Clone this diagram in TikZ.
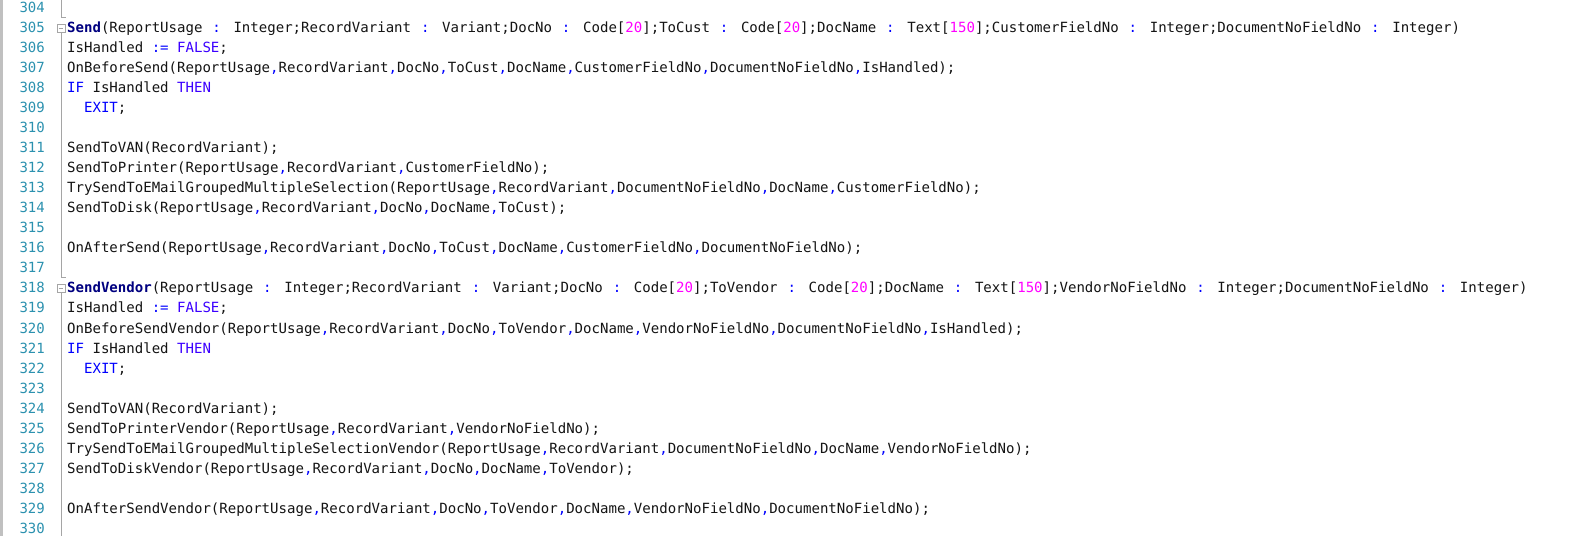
\documentclass[tikz,border=0pt]{standalone}
\usepackage{fontspec}
\setmonofont{DejaVu Sans Mono}
\newfontfamily\codefont{DejaVu Sans Mono}[Scale=1]
\definecolor{kw}{RGB}{0,0,255}
\definecolor{kv}{RGB}{60,0,255}
\definecolor{num}{RGB}{255,0,255}
\definecolor{fn}{RGB}{0,0,128}
\definecolor{lnum}{RGB}{43,145,175}
\definecolor{gut}{RGB}{165,165,165}
\definecolor{txt}{RGB}{20,20,20}
\newcommand\cm{\textcolor{kw}{,}}
\newcommand\cl{ \hspace{1.4bp}\textcolor{kw}{:}\hspace{1.4bp} }
\newcommand\nm[1]{\textcolor{num}{#1}}
\newcommand\kwd[1]{\textcolor{kw}{#1}}
\newcommand\kwv[1]{\textcolor{kv}{#1}}
\begin{document}
\begin{tikzpicture}[x=1bp,y=-1bp,
  code/.style={anchor=base west,inner sep=0,font=\codefont\fontsize{14.05bp}{16bp}\selectfont,text=txt},
  lno/.style={anchor=base east,inner sep=0,font=\codefont\fontsize{14bp}{16bp}\selectfont,text=lnum},
  gline/.style={draw=gut,line width=0.8bp},
  fold/.style={draw=gut,line width=0.8bp,fill=white}]
\useasboundingbox[fill=white] (0,0) rectangle (1577,536);
\fill[gut!70] (0,0) rectangle (2.5,536);
% line numbers
\foreach \i in {304,...,330}{
  \node[lno] (n\i) at (45,{13+20*(\i-304)}) {\i};
}
% gutter
\draw[gline] (61,0) -- (61,17) -- (66,17);
\draw[gline] (61,32) -- (61,277) -- (66,277);
\draw[gline] (61,292) -- (61,536);
\node[fold,minimum size=8bp,inner sep=0] (f305) at (61,28) {};
\draw[gline] ([xshift=2bp]f305.west) -- ([xshift=-2bp]f305.east);
\node[fold,minimum size=8bp,inner sep=0] (f318) at (61,288) {};
\draw[gline] ([xshift=2bp]f318.west) -- ([xshift=-2bp]f318.east);
% code
\node[code] (c305) at (67,33) {\textcolor{fn}{\bfseries Send}(ReportUsage\cl Integer;RecordVariant\cl Variant;DocNo\cl Code[\nm{20}];ToCust\cl Code[\nm{20}];DocName\cl Text[\nm{150}];CustomerFieldNo\cl Integer;DocumentNoFieldNo\cl Integer)};
\node[code] (c306) at (67,53) {IsHandled \kwd{:=} \kwv{FALSE};};
\node[code] (c307) at (67,73) {OnBeforeSend(ReportUsage\cm RecordVariant\cm DocNo\cm ToCust\cm DocName\cm CustomerFieldNo\cm DocumentNoFieldNo\cm IsHandled);};
\node[code] (c308) at (67,93) {\kwd{IF} IsHandled \kwv{THEN}};
\node[code] (c309) at (67,113) {\ \ \kwd{EXIT};};
\node[code] (c311) at (67,153) {SendToVAN(RecordVariant);};
\node[code] (c312) at (67,173) {SendToPrinter(ReportUsage\cm RecordVariant\cm CustomerFieldNo);};
\node[code] (c313) at (67,193) {TrySendToEMailGroupedMultipleSelection(ReportUsage\cm RecordVariant\cm DocumentNoFieldNo\cm DocName\cm CustomerFieldNo);};
\node[code] (c314) at (67,213) {SendToDisk(ReportUsage\cm RecordVariant\cm DocNo\cm DocName\cm ToCust);};
\node[code] (c316) at (67,253) {OnAfterSend(ReportUsage\cm RecordVariant\cm DocNo\cm ToCust\cm DocName\cm CustomerFieldNo\cm DocumentNoFieldNo);};
\node[code] (c318) at (67,293) {\textcolor{fn}{\bfseries SendVendor}(ReportUsage\cl Integer;RecordVariant\cl Variant;DocNo\cl Code[\nm{20}];ToVendor\cl Code[\nm{20}];DocName\cl Text[\nm{150}];VendorNoFieldNo\cl Integer;DocumentNoFieldNo\cl Integer)};
\node[code] (c319) at (67,313) {IsHandled \kwd{:=} \kwv{FALSE};};
\node[code] (c320) at (67,333) {OnBeforeSendVendor(ReportUsage\cm RecordVariant\cm DocNo\cm ToVendor\cm DocName\cm VendorNoFieldNo\cm DocumentNoFieldNo\cm IsHandled);};
\node[code] (c321) at (67,353) {\kwd{IF} IsHandled \kwv{THEN}};
\node[code] (c322) at (67,373) {\ \ \kwd{EXIT};};
\node[code] (c324) at (67,413) {SendToVAN(RecordVariant);};
\node[code] (c325) at (67,433) {SendToPrinterVendor(ReportUsage\cm RecordVariant\cm VendorNoFieldNo);};
\node[code] (c326) at (67,453) {TrySendToEMailGroupedMultipleSelectionVendor(ReportUsage\cm RecordVariant\cm DocumentNoFieldNo\cm DocName\cm VendorNoFieldNo);};
\node[code] (c327) at (67,473) {SendToDiskVendor(ReportUsage\cm RecordVariant\cm DocNo\cm DocName\cm ToVendor);};
\node[code] (c329) at (67,513) {OnAfterSendVendor(ReportUsage\cm RecordVariant\cm DocNo\cm ToVendor\cm DocName\cm VendorNoFieldNo\cm DocumentNoFieldNo);};
\end{tikzpicture}
\end{document}
